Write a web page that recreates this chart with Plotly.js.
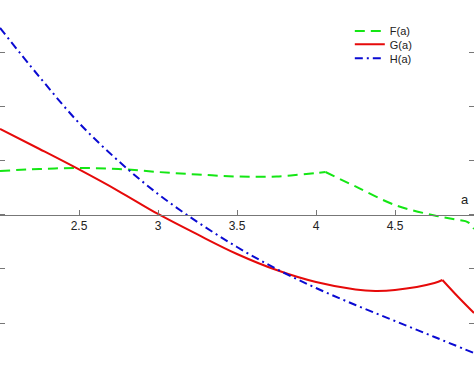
<!DOCTYPE html>
<html>
<head>
<meta charset="utf-8">
<script src="https://cdn.plot.ly/plotly-3.0.1.min.js"></script>
<style>html,body{margin:0;padding:0;background:#fff;}#chart{width:474px;height:377px;}</style>
</head>
<body>
<div id="chart"></div>
<script>
// a values and series
const aF = [2.0, 2.25, 2.5, 2.75, 3.0, 3.25, 3.5, 3.75, 4.0, 4.06, 4.25, 4.5, 4.75, 4.9, 4.96, 5.0];
const F  = [0.815, 0.852, 0.870, 0.852, 0.796, 0.750, 0.713, 0.713, 0.778, 0.796, 0.528, 0.185, -0.009, -0.093, -0.130, -0.259];
const kinkF = 9;   // index of the corner in F

const aG = [2.0, 2.25, 2.5, 2.75, 3.0, 3.25, 3.5, 3.75, 4.0, 4.25, 4.375, 4.5, 4.75, 4.8, 4.9, 5.0];
const G  = [1.593, 1.222, 0.843, 0.444, 0.019, -0.361, -0.722, -1.019, -1.241, -1.380, -1.407, -1.389, -1.259, -1.204, -1.519, -1.815];
const kinkG = 13;  // index of the corner in G

const aH = [2.0, 2.25, 2.5, 2.75, 3.0, 3.25, 3.5, 3.75, 4.0, 4.25, 4.5, 4.75, 5.0];
const H  = [3.463, 2.556, 1.704, 1.000, 0.389, -0.130, -0.593, -1.000, -1.352, -1.667, -1.963, -2.259, -2.556];

const names = ['F(a)', 'G(a)', 'H(a)'];
const xTicks = [2.5, 3, 3.5, 4, 4.5];
const xTickText = ['2.5', '3', '3.5', '4', '4.5'];
const yTicks = [-3, -2, -1, 0, 1, 2, 3];
const axisLabel = 'a';

const yMin = -3.0, yMax = 3.981;

const lineF = {color: 'rgb(20,230,20)', width: 2, dash: '10px,6px', shape: 'spline', smoothing: 1};
const lineG = {color: 'rgb(230,10,10)', width: 2, shape: 'spline', smoothing: 1};
const lineH = {color: 'rgb(10,10,210)', width: 2, dash: '8px,4px,2px,4px', shape: 'spline', smoothing: 1};

const traces = [
  {x: aF.slice(0, kinkF + 1), y: F.slice(0, kinkF + 1), name: names[0], mode: 'lines', line: lineF, legend: 'legend', legendgroup: 'F'},
  {x: aF.slice(kinkF), y: F.slice(kinkF), name: names[0], mode: 'lines', line: lineF, legend: 'legend', legendgroup: 'F', showlegend: false},
  {x: aG.slice(0, kinkG + 1), y: G.slice(0, kinkG + 1), name: names[1], mode: 'lines', line: lineG, legend: 'legend2', legendgroup: 'G'},
  {x: aG.slice(kinkG), y: G.slice(kinkG), name: names[1], mode: 'lines', line: lineG, legend: 'legend2', legendgroup: 'G', showlegend: false},
  {x: aH, y: H, name: names[2], mode: 'lines', line: lineH, legend: 'legend3', legendgroup: 'H'}
];

function leg(y) {
  return {x: 0.738, y: y, xanchor: 'left', yanchor: 'top', bgcolor: 'rgba(0,0,0,0)',
          font: {size: 11, color: '#222'}, itemwidth: 30};
}

const layout = {
  width: 474, height: 377,
  margin: {l: 0, r: 0, t: 0, b: 0, pad: 0},
  paper_bgcolor: '#fff', plot_bgcolor: '#fff',
  font: {family: 'Liberation Sans, Arial, sans-serif', size: 12, color: '#222'},
  showlegend: true,
  legend: leg(0.956),
  legend2: leg(0.921),
  legend3: leg(0.884),
  xaxis: {range: [2, 5], anchor: 'free', position: (0 - yMin) / (yMax - yMin),
          showline: true, linecolor: '#777', linewidth: 1,
          ticks: 'inside', ticklen: 5, tickcolor: '#777', tickvals: xTicks, ticktext: xTickText,
          showgrid: false, zeroline: false, tickfont: {size: 12, color: '#222'}},
  yaxis: {range: [yMin, yMax], showline: false, showgrid: false, zeroline: false,
          ticks: 'inside', ticklen: 5, tickcolor: '#777', tickvals: yTicks, showticklabels: false,
          mirror: 'ticks'},
  annotations: [{x: 4.943, y: 0.296, xref: 'x', yref: 'y', text: axisLabel, showarrow: false,
                 font: {size: 13, color: '#222'}}]
};

Plotly.newPlot('chart', traces, layout, {staticPlot: true, displayModeBar: false});
</script>
</body>
</html>
